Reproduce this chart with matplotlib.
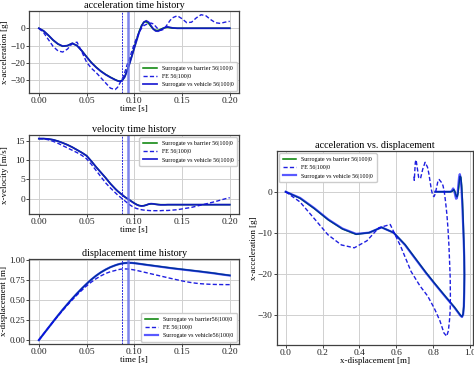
import numpy as np
import matplotlib
matplotlib.use("Agg")
import matplotlib.pyplot as plt

plt.rcParams['font.family'] = ['Liberation Serif', 'DejaVu Serif']

# ---------------- data ----------------
time_s = [0, .005, .01, .015, .02, .025, .03, .035, .04, .045, .05, .055, .06, .065, .07, .075, .08,
          .0825, .085, .0875, .09, .0925, .095, .0975, .1, .1025, .105, .1075, .11, .1125, .115, .1175,
          .12, .1225, .125, .1275, .13, .1325, .135, .1375, .14,
          .145, .15, .155, .16, .165, .17, .175, .18, .185, .19, .195, .2]

acc_vehicle = [0, -1.5, -4.0, -6.8, -9.0, -10.3, -10.0, -8.7, -10.0, -13.0, -16.5, -19.8, -22.5, -24.8, -26.7, -28.3, -29.7,
               -30.3, -30.6, -30.0, -28.0, -24.5, -20.5, -16.0, -11.5, -7.0, -2.5, 1.0, 3.5, 4.3, 3.5, 1.5,
               -0.5, -1.6, -1.7, -1.0, -0.2, 0.5, 0.8, 0.5, 0.2,
               0, 0, 0, 0, 0, 0, 0, 0, 0, 0, 0, 0]
acc_barrier = [0, -1.6, -4.1, -6.9, -9.1, -10.4, -10.0, -8.7, -10.0, -12.9, -16.4, -19.7, -22.4, -24.7, -26.6, -28.2, -29.6,
               -30.2, -30.5, -29.9, -27.9, -24.3, -20.2, -15.7, -11.0, -6.5, -2.0, 1.5, 3.5, 3.8, 2.8, 1.0,
               -0.5, -1.2, -1.2, -0.6, 0.0, 0.4, 0.5, 0.3, 0.1,
               0, 0, 0, 0, 0, 0, 0, 0, 0, 0, 0, 0]
acc_fe = [0, -2.5, -6.5, -10.5, -13.0, -13.7, -12.0, -8.8, -8.0, -13.5, -19.5, -23.0, -25.5, -28.5, -31.5, -34.5, -35.3,
          -34.0, -31.5, -29.0, -25.5, -21.0, -17.5, -13.0, -9.0, -5.5, -2.5, 0.0, 1.5, 2.2, 2.6, 3.0,
          2.5, 1.0, -0.5, -1.2, -0.8, 0.5, 2.5, 4.5, 6.0,
          7.2, 5.5, 3.2, 3.5, 6.0, 7.8, 7.2, 5.0, 3.2, 2.8, 3.5, 4.0]

vel_vehicle = [15.5, 15.5, 15.4, 15.2, 14.85, 14.4, 13.9, 13.3, 12.6, 11.9, 11.1, 9.7, 8.2, 6.8, 5.4, 3.9, 2.6,
               2.0, 1.5, 1.0, 0.5, 0.1, -0.3, -0.75, -1.15, -1.5, -1.75, -1.85, -1.8, -1.6, -1.35, -1.25,
               -1.3, -1.4, -1.5, -1.55, -1.55, -1.55, -1.5, -1.5, -1.5,
               -1.5, -1.5, -1.5, -1.5, -1.5, -1.5, -1.5, -1.5, -1.5, -1.5, -1.5, -1.5]
vel_barrier = [15.5, 15.5, 15.4, 15.2, 14.85, 14.4, 13.9, 13.3, 12.6, 11.9, 11.1, 9.7, 8.2, 6.8, 5.4, 3.9, 2.6,
               2.0, 1.5, 1.0, 0.5, 0.1, -0.3, -0.7, -1.1, -1.45, -1.7, -1.8, -1.75, -1.6, -1.4, -1.3,
               -1.3, -1.4, -1.45, -1.5, -1.5, -1.5, -1.5, -1.5, -1.5,
               -1.5, -1.5, -1.5, -1.5, -1.5, -1.5, -1.5, -1.5, -1.5, -1.5, -1.5, -1.5]
vel_fe = [15.5, 15.45, 15.2, 14.8, 14.3, 13.7, 13.1, 12.5, 11.9, 11.2, 10.3, 8.9, 7.3, 5.7, 4.1, 2.8, 1.6,
          1.0, 0.5, 0.0, -0.5, -1.0, -1.5, -1.9, -2.25, -2.5, -2.65, -2.8, -2.9, -2.95, -3.0, -3.05,
          -3.05, -3.05, -3.05, -3.05, -3.0, -3.0, -3.0, -2.95, -2.9,
          -2.8, -2.6, -2.4, -2.2, -1.9, -1.6, -1.3, -1.0, -0.7, -0.35, 0.0, 0.3]

disp_vehicle = [0, .078, .155, .232, .308, .382, .452, .52, .585, .647, .705, .76, .808, .85, .885, .915, .938,
                .948, .956, .962, .966, .968, .969, .968, .965, .961, .957, .953, .948, .944, .94, .936,
                .932, .928, .924, .92, .916, .912, .908, .904, .90,
                .893, .886, .879, .872, .865, .858, .85, .843, .835, .826, .818, .81]
disp_barrier = [0, .078, .155, .232, .308, .382, .452, .52, .585, .647, .705, .76, .808, .85, .885, .915, .938,
                .948, .956, .962, .966, .968, .969, .968, .965, .962, .958, .954, .95, .946, .942, .938,
                .934, .93, .926, .922, .918, .914, .91, .906, .902,
                .895, .888, .881, .874, .867, .86, .852, .845, .837, .828, .82, .812]
disp_fe = [0, .078, .154, .229, .302, .372, .44, .505, .567, .625, .68, .728, .77, .806, .836, .858, .873,
           .882, .888, .892, .893, .892, .889, .885, .88, .874, .867, .86, .853, .846, .839, .832,
           .825, .818, .811, .804, .797, .79, .783, .776, .769,
           .756, .743, .731, .721, .713, .707, .703, .70, .698, .697, .696, .696]

t_stop_fe = 0.0875
t_stop_surrogate = 0.0935

lab_bar = "Surrogate vs barrier 56|100|0"
lab_fe = "FE 56|100|0"
lab_veh = "Surrogate vs vehicle 56|100|0"
lab_bar_d = "Surrogate vs barrier56|100|0"
lab_veh_d = "Surrogate vs vehicle56|100|0"

# ---------------- styling ----------------
C_BAR = 'green'
C_FE = '#1f1fe0'
C_VEH = '#1010d0'
FS_TICK = 6.8
FS_LAB = 6.4
FS_TITLE = 7.3
FS_LEG = 4.3

fig = plt.figure(figsize=(4.74, 3.67), dpi=100)
ax1 = fig.add_axes([0.0618, 0.7458, 0.443, 0.2243])
ax2 = fig.add_axes([0.0618, 0.4161, 0.443, 0.216])
ax3 = fig.add_axes([0.0618, 0.0627, 0.443, 0.2316])
ax4 = fig.add_axes([0.5838, 0.0599, 0.4148, 0.5286])


def style(ax):
    ax.grid(True, color='#d0d0d0', linewidth=0.7)
    ax.set_axisbelow(True)
    for s in ax.spines.values():
        s.set_color('#404040')
        s.set_linewidth(0.9)
    ax.tick_params(labelsize=FS_TICK, length=2.0, width=0.6, pad=1.0, colors='#222222')


def series(ax, x_bar, y_bar, x_fe, y_fe, x_veh, y_veh, lb, lf, lv, light=False):
    ax.plot(x_bar, y_bar, color=C_BAR, lw=1.1, label=lb)
    ax.plot(x_fe, y_fe, color=C_FE, lw=1.0, ls=(0, (3, 1.6)), label=lf)
    if light:
        ax.plot(x_veh, y_veh, color='#0000ff', lw=1.6, alpha=0.65, label=lv)
    else:
        ax.plot(x_veh, y_veh, color=C_VEH, lw=1.3, alpha=0.9, label=lv)


def vlines(ax):
    ax.axvline(t_stop_fe, color='#2a2ae0', lw=0.7, ls=(0, (2, 1)))
    ax.axvline(t_stop_surrogate, color='#6670e8', lw=1.8, alpha=0.85)


def legend(ax, loc):
    ax.legend(loc=loc, fontsize=FS_LEG, handlelength=2.3, framealpha=1, edgecolor='#cccccc',
              borderpad=0.6, labelspacing=0.5, handletextpad=0.8, borderaxespad=0.4)


def labels(ax, title, xlabel, ylabel, ylab_x):
    ax.set_title(title, fontsize=FS_TITLE, pad=2)
    ax.set_xlabel(xlabel, fontsize=FS_LAB, labelpad=0)
    ax.set_ylabel(ylabel, fontsize=FS_LAB)
    ax.yaxis.set_label_coords(ylab_x, 0.5)


# acceleration time history
series(ax1, time_s, acc_barrier, time_s, acc_fe, time_s, acc_vehicle, lab_bar, lab_fe, lab_veh)
vlines(ax1)
labels(ax1, "acceleration time history", "time [s]", "x-acceleration [g]", -0.097)
ax1.set_yticks([0, -10, -20, -30])
legend(ax1, 'lower right')

# velocity time history
series(ax2, time_s, vel_barrier, time_s, vel_fe, time_s, vel_vehicle, lab_bar, lab_fe, lab_veh)
vlines(ax2)
labels(ax2, "velocity time history", "time [s]", "x-velocity [m/s]", -0.097)
ax2.set_yticks([0, 5, 10, 15])
legend(ax2, 'upper right')

# displacement time history
series(ax3, time_s, disp_barrier, time_s, disp_fe, time_s, disp_vehicle, lab_bar_d, lab_fe, lab_veh_d, light=True)
vlines(ax3)
labels(ax3, "displacement time history", "time [s]", "x-displacement [m]", -0.1)
ax3.set_yticks([0, 0.25, 0.5, 0.75, 1.0])
ax3.yaxis.set_major_formatter(matplotlib.ticker.FormatStrFormatter('%.2f'))
legend(ax3, 'lower right')

for ax in (ax1, ax2, ax3):
    ax.set_xticks([0, 0.05, 0.1, 0.15, 0.2])
    ax.xaxis.set_major_formatter(matplotlib.ticker.FormatStrFormatter('%.2f'))
    style(ax)
ax3.tick_params(axis='y', labelsize=6.5, pad=0.8)

# acceleration vs displacement
series(ax4, disp_barrier, acc_barrier, disp_fe, acc_fe, disp_vehicle, acc_vehicle, lab_bar, lab_fe, lab_veh, light=True)
labels(ax4, "acceleration vs. displacement", "x-displacement [m]", "x-acceleration [g]", -0.095)
ax4.set_yticks([0, -10, -20, -30])
ax4.set_xticks([0, 0.2, 0.4, 0.6, 0.8, 1.0])
ax4.xaxis.set_major_formatter(matplotlib.ticker.FormatStrFormatter('%.1f'))
legend(ax4, 'upper left')
style(ax4)

fig.savefig("out.png", dpi=100)
